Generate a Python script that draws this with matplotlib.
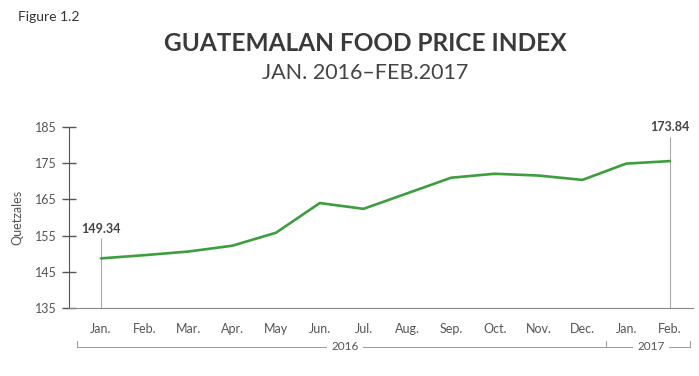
import matplotlib.pyplot as plt

months = ['Jan.', 'Feb.', 'Mar.', 'Apr.', 'May', 'Jun.', 'Jul.', 'Aug.',
          'Sep.', 'Oct.', 'Nov.', 'Dec.', 'Jan.', 'Feb.']
prices = [148.7, 149.6, 150.6, 152.2, 155.8, 164.0, 162.4, 166.7,
          171.0, 172.1, 171.6, 170.4, 174.9, 175.6]
yticks = [135, 145, 155, 165, 175, 185]
first_label = '149.34'
last_label = '173.84'

plt.rcParams['font.family'] = ['Lato', 'DejaVu Sans']
grey = '#555555'

fig = plt.figure(figsize=(6.99, 3.76), dpi=100)
ax = fig.add_axes([0.0987, 0.181, 0.8923, 0.481])

x = list(range(len(prices)))
ax.plot(x, prices, color='#3c9e3c', lw=1.9, solid_joinstyle='round',
        solid_capstyle='round', zorder=3)

ax.set_xlim(-0.73, 13.52)
ax.set_ylim(135, 185)
ax.set_yticks(yticks)
ax.set_xticks(x)
ax.set_xticklabels(months)
ax.tick_params(axis='x', length=0, pad=11, labelsize=9, labelcolor=grey)
ax.tick_params(axis='y', direction='inout', length=10, width=1, color=grey,
               labelsize=9, labelcolor=grey, pad=4)
for s in ['top', 'right']:
    ax.spines[s].set_visible(False)
ax.spines['left'].set_color(grey)
ax.spines['bottom'].set_color('#888888')
ax.spines['bottom'].set_linewidth(0.8)
ax.set_ylabel('Quetzales', fontsize=9, color=grey, labelpad=8)

# first / last value markers
ax.vlines([x[0]], 135, 154.3, color='#aaaaaa', lw=0.8, zorder=1)
ax.vlines([x[-1]], 135, 182.2, color='#aaaaaa', lw=0.8, zorder=1)
ax.text(x[0] - 0.45, 155.3, first_label, fontsize=9, fontweight='bold',
        color='#444444', ha='left', va='bottom')
ax.text(x[-1] + 0.45, 183.4, last_label, fontsize=9, fontweight='bold',
        color='#444444', ha='right', va='bottom')

# year brackets
tr = ax.get_xaxis_transform()
yb = -0.215
bc = '#999999'
kw = dict(color=bc, lw=0.7, transform=tr, clip_on=False)
ax.plot([-0.55, -0.55, 13.45, 13.45], [yb + 0.03, yb, yb, yb + 0.03], **kw)
ax.plot([11.55, 11.55], [yb, yb + 0.03], **kw)
ax.text(5.57, yb, '2016', fontsize=8.5, color=grey, ha='center', va='center',
        transform=tr, bbox=dict(fc='white', ec='none', pad=3))
ax.text(12.56, yb, '2017', fontsize=8.5, color=grey, ha='center', va='center',
        transform=tr, bbox=dict(fc='white', ec='none', pad=3))

fig.text(0.026, 0.955, 'Figure 1.2', fontsize=10, color='#333333',
         ha='left', va='center')
fig.text(0.522, 0.885, 'GUATEMALAN FOOD PRICE INDEX', fontsize=17.6,
         fontweight='bold', color='#3a3a3a', ha='center', va='center')
fig.text(0.522, 0.806, 'JAN. 2016\u2013FEB.2017', fontsize=15.5,
         fontweight='normal', color='#444444', ha='center', va='center')

fig.savefig('out.png', dpi=100)
